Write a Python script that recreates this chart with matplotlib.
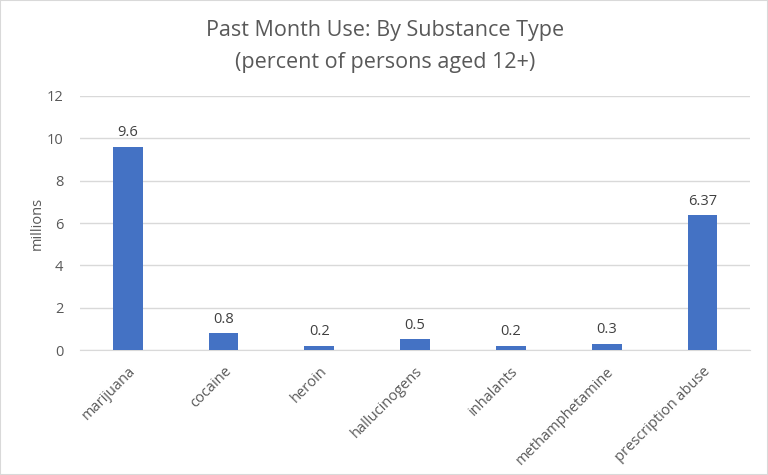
import matplotlib
matplotlib.use("Agg")
import matplotlib.pyplot as plt
from matplotlib.patches import Rectangle

categories = ["marijuana", "cocaine", "heroin", "hallucinogens", "inhalants",
              "methamphetamine", "prescription abuse"]
values = [9.6, 0.8, 0.2, 0.5, 0.2, 0.3, 6.37]
value_labels = ["9.6", "0.8", "0.2", "0.5", "0.2", "0.3", "6.37"]
yticks = [0, 2, 4, 6, 8, 10, 12]

plt.rcParams['font.family'] = ['Open Sans', 'DejaVu Sans']
text_color = "#595959"

fig = plt.figure(figsize=(7.68, 4.75), dpi=100)
fig.patches.append(Rectangle((0, 0), 1, 1, transform=fig.transFigure,
                             fill=False, edgecolor="#d9d9d9", linewidth=1.5))
ax = fig.add_axes([0.104, 0.263, 0.873, 0.535])

x = range(len(categories))
bars = ax.bar(x, values, width=0.31, color="#4472C4", zorder=3)
for xi, v, lab in zip(x, values, value_labels):
    ax.text(xi, v + 0.3, lab, ha="center", va="bottom", fontsize=10.5, color="#404040")

ax.set_ylim(0, 12)
ax.set_xlim(-0.5, len(categories) - 0.5)
ax.set_yticks(yticks)
ax.set_yticklabels([str(t) for t in yticks], fontsize=10.5, color=text_color)
ax.set_xticks(list(x))
ax.set_xticklabels(categories, rotation=45, ha="right", rotation_mode="anchor",
                   fontsize=10.5, color=text_color)
ax.tick_params(axis="y", length=0, pad=12)
ax.tick_params(axis="x", length=0, pad=10)
ax.grid(axis="y", color="#d9d9d9", linewidth=1, zorder=0)
for s in ["top", "right", "left"]:
    ax.spines[s].set_visible(False)
ax.spines["bottom"].set_color("#d9d9d9")
ax.set_ylabel("millions", fontsize=10.5, color=text_color, labelpad=1)

fig.text(0.502, 0.936, "Past Month Use: By Substance Type", ha="center", va="center",
         fontsize=15.5, color=text_color)
fig.text(0.502, 0.868, "(percent of persons aged 12+)", ha="center", va="center",
         fontsize=15.5, color=text_color)

fig.savefig("out.png", dpi=100)
